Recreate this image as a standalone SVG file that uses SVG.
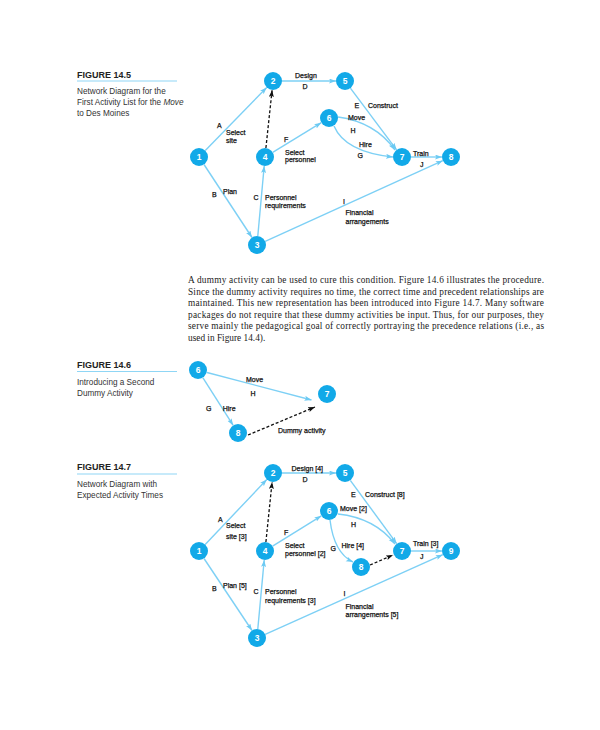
<svg xmlns="http://www.w3.org/2000/svg" width="600" height="730" viewBox="0 0 600 730">
<defs>
<marker id="ab" markerUnits="userSpaceOnUse" markerWidth="8" markerHeight="6" refX="7" refY="2.5" orient="auto"><path d="M0,0 L7,2.5 L0,5 L1.5,2.5 z" fill="#6ccaf3"/></marker>
<marker id="ak" markerUnits="userSpaceOnUse" markerWidth="8" markerHeight="6" refX="7" refY="2.5" orient="auto"><path d="M0,0 L7,2.5 L0,5 L1.5,2.5 z" fill="#111"/></marker>
</defs>
<style>
.bg{fill:#fff}
.e{fill:none;stroke:#7dd0f5;stroke-width:1.4;marker-end:url(#ab)}
.d{fill:none;stroke:#111;stroke-width:1.3;stroke-dasharray:3,2;marker-end:url(#ak)}
.n circle{fill:#12a9e8}
.n text{font-family:"Liberation Sans",Arial,sans-serif;font-size:8.5px;font-weight:bold;fill:#fff;text-anchor:middle}
.l{font-family:"Liberation Sans",Arial,sans-serif;font-size:7px;fill:#111;stroke:#111;stroke-width:0.25}
.fh{font-family:"Liberation Sans",Arial,sans-serif;font-size:9px;font-weight:bold;fill:#222}
.fc{font-family:"Liberation Sans",Arial,sans-serif;font-size:8.2px;fill:#333}
.rule{stroke:#8fd6f5;stroke-width:1.2}
.p{font-family:"Liberation Serif","Times New Roman",serif;font-size:9.3px;fill:#222}
</style>
<rect class="bg" width="600" height="730"/>

<!-- Captions -->
<g id="cap145">
<text class="fh" x="77" y="77.5">FIGURE 14.5</text>
<line class="rule" x1="77" y1="81" x2="177" y2="81"/>
<text class="fc" x="77" y="93.5">Network Diagram for the</text>
<text class="fc" x="77" y="105">First Activity List for the <tspan font-style="italic">Move</tspan></text>
<text class="fc" x="77" y="115.5">to Des Moines</text>
</g>
<g id="cap146">
<text class="fh" x="77" y="368">FIGURE 14.6</text>
<line class="rule" x1="77" y1="371.5" x2="177" y2="371.5"/>
<text class="fc" x="77" y="384.5">Introducing a Second</text>
<text class="fc" x="77" y="395.5">Dummy Activity</text>
</g>
<g id="cap147">
<text class="fh" x="77" y="470">FIGURE 14.7</text>
<line class="rule" x1="77" y1="474" x2="177" y2="474"/>
<text class="fc" x="77" y="487">Network Diagram with</text>
<text class="fc" x="77" y="498">Expected Activity Times</text>
</g>

<!-- Paragraph -->
<g id="paragraph">
<text class="p" x="188" y="283" textLength="356" lengthAdjust="spacing">A dummy activity can be used to cure this condition. Figure 14.6 illustrates the procedure.</text>
<text class="p" x="188" y="294.5" textLength="356" lengthAdjust="spacing">Since the dummy activity requires no time, the correct time and precedent relationships are</text>
<text class="p" x="188" y="306" textLength="356" lengthAdjust="spacing">maintained. This new representation has been introduced into Figure 14.7. Many software</text>
<text class="p" x="188" y="317.5" textLength="356" lengthAdjust="spacing">packages do not require that these dummy activities be input. Thus, for our purposes, they</text>
<text class="p" x="188" y="329" textLength="356" lengthAdjust="spacing">serve mainly the pedagogical goal of correctly portraying the precedence relations (i.e., as</text>
<text class="p" x="188" y="340.5">used in Figure 14.4).</text>
</g>

<!-- Figure 14.5 connectors -->
<g id="connectors145">
<line class="e" x1="205.3" y1="150.6" x2="266.7" y2="87.4"/>
<line class="e" x1="204" y1="164.5" x2="252" y2="237.5"/>
<line class="e" x1="257.8" y1="236" x2="264.2" y2="166"/>
<line class="d" x1="265.9" y1="148" x2="272.1" y2="90"/>
<line class="e" x1="282" y1="81" x2="336" y2="81"/>
<line class="e" x1="272.7" y1="152.3" x2="321.3" y2="122.7"/>
<line class="e" x1="350.4" y1="88.2" x2="396.6" y2="149.8"/>
<path class="e" d="M338,117 Q375,122 395,150"/>
<path class="e" d="M334,126 Q345,152 393,157"/>
<line class="e" x1="411" y1="157" x2="442" y2="157"/>
<line class="e" x1="265.2" y1="241.3" x2="442.8" y2="160.7"/>
</g>
<g id="labels145">
<text class="l" x="217" y="128">A</text>
<text class="l" x="226" y="135">Select</text>
<text class="l" x="226" y="143">site</text>
<text class="l" x="212" y="196.5">B</text>
<text class="l" x="223" y="193.5">Plan</text>
<text class="l" x="253.5" y="200">C</text>
<text class="l" x="265" y="199.5">Personnel</text>
<text class="l" x="265" y="208">requirements</text>
<text class="l" x="295" y="78">Design</text>
<text class="l" x="302.5" y="89">D</text>
<text class="l" x="354.5" y="108">E</text>
<text class="l" x="368" y="108">Construct</text>
<text class="l" x="348" y="120">Move</text>
<text class="l" x="350.5" y="133">H</text>
<text class="l" x="359" y="147">Hire</text>
<text class="l" x="357.5" y="157.5">G</text>
<text class="l" x="284" y="142">F</text>
<text class="l" x="285" y="155">Select</text>
<text class="l" x="285" y="162">personnel</text>
<text class="l" x="413" y="155.5">Train</text>
<text class="l" x="420" y="166.5">J</text>
<text class="l" x="343" y="203.5">I</text>
<text class="l" x="345.5" y="215">Financial</text>
<text class="l" x="345.5" y="223.5">arrangements</text>
</g>
<g id="f145-n1" class="n"><circle cx="199" cy="157" r="9"/><text x="199" y="160">1</text></g>
<g id="f145-n2" class="n"><circle cx="273" cy="81" r="9"/><text x="273" y="84">2</text></g>
<g id="f145-n3" class="n"><circle cx="257" cy="245" r="9"/><text x="257" y="248">3</text></g>
<g id="f145-n4" class="n"><circle cx="265" cy="157" r="9"/><text x="265" y="160">4</text></g>
<g id="f145-n5" class="n"><circle cx="345" cy="81" r="9"/><text x="345" y="84">5</text></g>
<g id="f145-n6" class="n"><circle cx="329" cy="118" r="9"/><text x="329" y="121">6</text></g>
<g id="f145-n7" class="n"><circle cx="402" cy="157" r="9"/><text x="402" y="160">7</text></g>
<g id="f145-n8" class="n"><circle cx="451" cy="157" r="9"/><text x="451" y="160">8</text></g>

<!-- Figure 14.6 -->
<g id="connectors146">
<line class="e" x1="207" y1="372.5" x2="311.5" y2="400"/>
<line class="e" x1="202.8" y1="377.6" x2="233.2" y2="425.4"/>
<line class="d" x1="248" y1="435" x2="315" y2="407"/>
</g>
<g id="labels146">
<text class="l" x="246" y="381.8">Move</text>
<text class="l" x="250.5" y="396">H</text>
<text class="l" x="206" y="411">G</text>
<text class="l" x="222.7" y="411">Hire</text>
<text class="l" x="278" y="432.5">Dummy activity</text>
</g>
<g id="f146-n6" class="n"><circle cx="198" cy="370" r="9"/><text x="198" y="373">6</text></g>
<g id="f146-n7" class="n"><circle cx="327" cy="394" r="9"/><text x="327" y="397">7</text></g>
<g id="f146-n8" class="n"><circle cx="238" cy="433" r="9"/><text x="238" y="436">8</text></g>

<!-- Figure 14.7 -->
<g id="connectors147">
<line class="e" x1="205.2" y1="544.5" x2="266.8" y2="479.5"/>
<line class="e" x1="204" y1="558.5" x2="252" y2="630.5"/>
<line class="e" x1="257.8" y1="629" x2="264.2" y2="560"/>
<line class="d" x1="265.9" y1="542" x2="272.1" y2="482"/>
<line class="e" x1="282" y1="473" x2="336" y2="473"/>
<line class="e" x1="272.6" y1="546.2" x2="321.4" y2="515.8"/>
<line class="e" x1="350.3" y1="480.3" x2="396.7" y2="543.7"/>
<path class="e" d="M338,514 Q375,518 395,544"/>
<path class="e" d="M330,520 Q334,553 353,562"/>
<line class="d" x1="370" y1="565" x2="393" y2="555"/>
<line class="e" x1="411" y1="551" x2="442" y2="551"/>
<line class="e" x1="265.2" y1="634.3" x2="442.8" y2="554.7"/>
</g>
<g id="labels147">
<text class="l" x="218" y="521.5">A</text>
<text class="l" x="226" y="528">Select</text>
<text class="l" x="226" y="538.5">site [3]</text>
<text class="l" x="212" y="591">B</text>
<text class="l" x="223" y="587.5">Plan [5]</text>
<text class="l" x="253.5" y="594">C</text>
<text class="l" x="265" y="594">Personnel</text>
<text class="l" x="265" y="602.5">requirements [3]</text>
<text class="l" x="291.5" y="470.5">Design [4]</text>
<text class="l" x="302.5" y="481.5">D</text>
<text class="l" x="351" y="496.5">E</text>
<text class="l" x="365" y="496.5">Construct [8]</text>
<text class="l" x="340" y="511">Move [2]</text>
<text class="l" x="351" y="526.5">H</text>
<text class="l" x="284" y="535">F</text>
<text class="l" x="285" y="548">Select</text>
<text class="l" x="285" y="556">personnel [2]</text>
<text class="l" x="330.5" y="551">G</text>
<text class="l" x="341.5" y="547.5">Hire [4]</text>
<text class="l" x="413" y="545.5">Train [3]</text>
<text class="l" x="420" y="559">J</text>
<text class="l" x="343.5" y="596">I</text>
<text class="l" x="345.5" y="608.5">Financial</text>
<text class="l" x="345.5" y="617">arrangements [5]</text>
</g>
<g id="f147-n1" class="n"><circle cx="199" cy="551" r="9"/><text x="199" y="554">1</text></g>
<g id="f147-n2" class="n"><circle cx="273" cy="473" r="9"/><text x="273" y="476">2</text></g>
<g id="f147-n3" class="n"><circle cx="257" cy="638" r="9"/><text x="257" y="641">3</text></g>
<g id="f147-n4" class="n"><circle cx="265" cy="551" r="9"/><text x="265" y="554">4</text></g>
<g id="f147-n5" class="n"><circle cx="345" cy="473" r="9"/><text x="345" y="476">5</text></g>
<g id="f147-n6" class="n"><circle cx="329" cy="511" r="9"/><text x="329" y="514">6</text></g>
<g id="f147-n7" class="n"><circle cx="402" cy="551" r="9"/><text x="402" y="554">7</text></g>
<g id="f147-n8" class="n"><circle cx="361" cy="567" r="9"/><text x="361" y="570">8</text></g>
<g id="f147-n9" class="n"><circle cx="451" cy="551" r="9"/><text x="451" y="554">9</text></g>
</svg>
